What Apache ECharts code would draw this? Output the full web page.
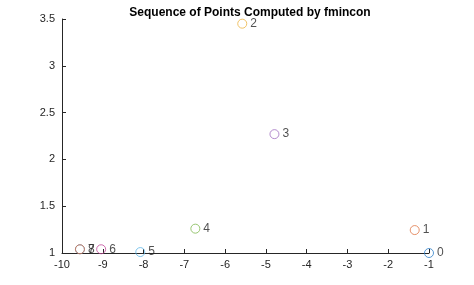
<!DOCTYPE html>
<html><head><meta charset="utf-8">
<script src="https://cdn.jsdelivr.net/npm/echarts@6/dist/echarts.min.js"></script>
<style>html,body{margin:0;padding:0;background:#fff}#c{width:474px;height:285px}</style>
</head><body><div id="c"></div>
<script>
const pointLabels = ['0','1','2','3','4','5','6','7','8'];
const xValues = [-1.0, -1.35, -5.58, -4.79, -6.73, -8.08, -9.04, -9.56, -9.56];
const yValues = [1.0, 1.245, 3.45, 2.27, 1.26, 1.01, 1.04, 1.04, 1.04];
const pointColors = ['#2f7fc8','#e07848','#ecb444','#a070c0','#80b850','#60b8e8','#c0489a','#2f7fc8','#e07848'];
const xTicks = [-10,-9,-8,-7,-6,-5,-4,-3,-2,-1];
const yTicks = [1,1.5,2,2.5,3,3.5];

const chart = echarts.init(document.getElementById('c'));
const font = 'Liberation Sans, Arial, sans-serif';
const data = xValues.map((x,i)=>({
  value:[x,yValues[i]],
  name:pointLabels[i],
  itemStyle:{color:'transparent',borderColor:pointColors[i],borderWidth:1}
}));
chart.setOption({
  animation:false,
  title:{text:'Sequence of Points Computed by fmincon',left:245,top:2,textAlign:'center',
    textStyle:{fontFamily:font,fontSize:12,fontWeight:'bold',color:'#000'}},
  grid:{left:62,right:45,top:19,bottom:32},
  xAxis:{type:'value',min:-10,max:-1,interval:1,
    axisLine:{show:true,lineStyle:{color:'#262626'}},
    axisTick:{show:true,inside:true,length:4,lineStyle:{color:'#262626'}},
    axisLabel:{color:'#262626',fontFamily:font,fontSize:11,margin:6,
      formatter:v=>xTicks.includes(v)?String(v):''},
    splitLine:{show:false}},
  yAxis:{type:'value',min:1,max:3.5,interval:0.5,
    axisLine:{show:true,lineStyle:{color:'#262626'}},
    axisTick:{show:true,inside:true,length:4,lineStyle:{color:'#262626'}},
    axisLabel:{color:'#262626',fontFamily:font,fontSize:11,margin:7,
      formatter:v=>yTicks.includes(v)?String(v):''},
    splitLine:{show:false}},
  series:[{
    type:'scatter',symbol:'circle',symbolSize:9,clip:false,
    data:data,
    label:{show:true,position:'right',distance:3,formatter:p=>p.name,
      color:'#262626',fontFamily:font,fontSize:12}
  }]
});
</script></body></html>
